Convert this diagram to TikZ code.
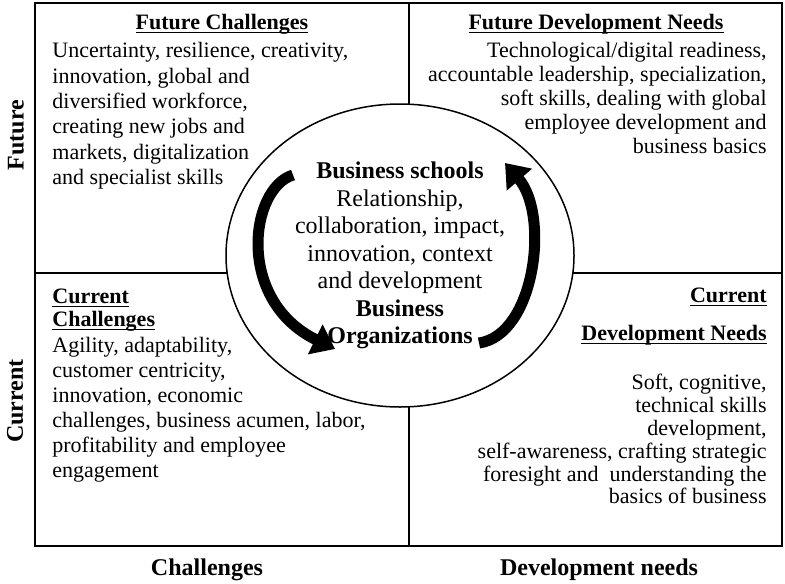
\documentclass[tikz,border=0pt]{standalone}
\usepackage{fontspec}
\setmainfont{Liberation Serif}
\usetikzlibrary{shapes.geometric}
\usetikzlibrary{arrows.meta}
\newcommand{\hdline}[1]{\underline{\smash{#1}}\vphantom{#1}}

\begin{document}
\begin{tikzpicture}[x=0.5pt, y=-0.5pt,
txt/.style = {inner sep=0pt, font=\fontsize{11}{#1}\selectfont},
txt/.default = 12.5pt,
hdr/.style = {inner sep=0pt, font=\fontsize{11}{#1}\selectfont\bfseries},
hdr/.default = 13pt,
axis/.style = {inner sep=0pt, font=\fontsize{12}{14}\selectfont\bfseries},
flow/.style = {line width=5.5pt, -{Triangle[length=11pt, width=16pt]}}  % thick circular arrows
                ]
    \useasboundingbox (0,0) rectangle (785,583);
    % quadrant frame
    \draw[line width=1pt] (35,3) rectangle (782,546);
    \draw[line width=1pt] (409,3) -- (409,546);
    \draw[line width=1pt] (35,273) -- (782,273);

    % upper quadrants
    \foreach \x/\t/\n in {222/Future Challenges/fc, 596/Future Development Needs/fd}
        \node[hdr, anchor=base] at (\x,30) (\n) {\hdline{\t}};
    \node[txt=12.7pt, align=left, anchor=north west] at (52,42) (fcb)
        {Uncertainty, resilience, creativity,\\innovation, global and\\diversified workforce,\\creating new jobs and\\markets, digitalization\\and specialist skills};
    \node[txt=12pt, align=right, anchor=north east] at (767,42) (fdb)
        {Technological/digital readiness,\\accountable leadership, specialization,\\soft skills, dealing with global\\employee development and\\business basics};

    % lower quadrants
    \node[hdr=11.5pt, align=left, anchor=north west] at (52,289) (cc) {\hdline{Current}\\\hdline{Challenges}};
    \node[txt=12.5pt, align=left, anchor=north west] at (52,337) (ccb)
        {Agility, adaptability,\\customer centricity,\\innovation, economic\\challenges, business acumen, labor,\\profitability and employee\\engagement};
    \node[hdr=19pt, align=right, anchor=north east] at (767,288) (cd) {\hdline{Current}\\\hdline{Development Needs}};
    \node[txt=11.4pt, align=right, anchor=north east] at (767,374) (cdb)
        {Soft, cognitive,\\technical skills\\development,\\self-awareness, crafting strategic\\foresight and\ \ understanding the\\basics of business};

    % centre
    \node[ellipse, draw, fill=white, line width=0.75pt, minimum width=174pt, minimum height=151.5pt,
          inner sep=0pt, align=center, font=\fontsize{12}{13.75}\selectfont] at (400,255.5) (hub)
        {\textbf{Business schools}\\Relationship,\\collaboration, impact,\\innovation, context\\and development\\\textbf{Business}\\\textbf{Organizations}};
    \coordinate (l0) at (293,175);
    \coordinate (l1) at (335,349);
    \coordinate (r0) at (479,343);
    \coordinate (r1) at (505,163);
    \draw[flow] (l0) .. controls (250,188) and (235,300) .. (l1);
    \draw[flow] (r0) .. controls (535,335) and (550,215) .. (r1);

    % axis labels
    \foreach \x/\y/\t/\n in {16/135/Future/af, 15/401/Current/ac}
        \node[axis, rotate=90] at (\x,\y) (\n) {\t};
    \foreach \x/\t/\n in {207/Challenges/ach, 599/Development needs/adn}
        \node[axis, anchor=base] at (\x,575) (\n) {\t};
\end{tikzpicture}
\end{document}
